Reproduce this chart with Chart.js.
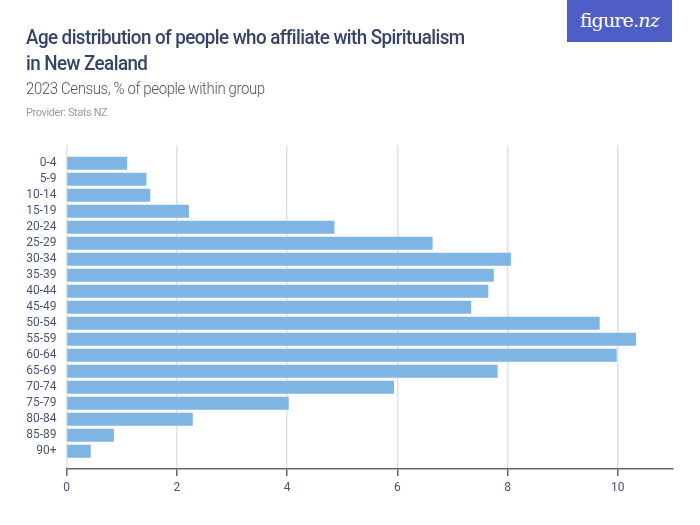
<!DOCTYPE html>
<html lang="en">
<head>
  <meta charset="UTF-8">
  <title>Age distribution of people who affiliate with Spiritualism in New Zealand</title>
  <script src="https://cdn.jsdelivr.net/npm/chart.js"></script>
  <style>
    html, body {
      margin: 0;
      padding: 0;
      width: 700px;
      height: 525px;
      background: #fff;
      overflow: hidden;
      font-family: Roboto, sans-serif;
    }
    .wrap {
      position: relative;
      width: 700px;
      height: 525px;
    }
    canvas {
      position: absolute;
      left: 0;
      top: 0;
    }
    .title {
      position: absolute;
      left: 26px;
      top: 24px;
      font-size: 20px;
      line-height: 26px;
      font-weight: 500;
      color: #354466;
      letter-spacing: -0.6px;
      transform: scaleX(0.94);
      transform-origin: left top;
      white-space: nowrap;
    }
    .subtitle {
      position: absolute;
      left: 26px;
      top: 79px;
      font-size: 16px;
      font-weight: 300;
      color: #545454;
      letter-spacing: -0.4px;
      transform: scaleX(0.935);
      transform-origin: left top;
      white-space: nowrap;
    }
    .provider {
      position: absolute;
      left: 26px;
      top: 106px;
      font-size: 11px;
      color: #9a9a9a;
      letter-spacing: -0.4px;
      white-space: nowrap;
    }
    .logo {
      position: absolute;
      left: 567px;
      top: 0;
      width: 105px;
      height: 42px;
      background: #4f5dc6;
      color: #fff;
      font-family: "DejaVu Serif", serif;
      font-size: 19px;
      line-height: 40px;
      text-align: center;
      letter-spacing: -0.8px;
    }
    .logo i {
      font-style: italic;
    }
  </style>
</head>
<body>
  <div class="wrap">
    <canvas id="chart" width="700" height="525"></canvas>
    <div class="title">Age distribution of people who affiliate with Spiritualism<br>in New Zealand</div>
    <div class="subtitle">2023 Census, % of people within group</div>
    <div class="provider">Provider: Stats NZ</div>
    <div class="logo">figure.<i>nz</i></div>
  </div>

  <script>
    const ageGroups = ['0-4', '5-9', '10-14', '15-19', '20-24', '25-29', '30-34', '35-39', '40-44', '45-49',
      '50-54', '55-59', '60-64', '65-69', '70-74', '75-79', '80-84', '85-89', '90+'];
    const percentages = [1.10, 1.45, 1.52, 2.22, 4.86, 6.64, 8.06, 7.75, 7.65, 7.34,
      9.67, 10.33, 9.98, 7.82, 5.94, 4.03, 2.29, 0.86, 0.44];
    const xTicks = [0, 2, 4, 6, 8, 10];

    const labelColor = '#4a5573';
    const barColor = '#7fb5e4';

    // bars sit on a linear index axis so the empty strip above the x axis can be kept
    const points = percentages.map((v, i) => ({ x: v, y: i }));

    const ctx = document.getElementById('chart').getContext('2d');
    new Chart(ctx, {
      type: 'bar',
      data: {
        datasets: [{
          data: points,
          backgroundColor: barColor,
          borderWidth: 0,
          barPercentage: 0.8,
          categoryPercentage: 1
        }]
      },
      options: {
        indexAxis: 'y',
        responsive: false,
        animation: false,
        layout: {
          padding: { top: 145, right: 27, bottom: 0, left: 0 }
        },
        plugins: {
          legend: { display: false },
          tooltip: { enabled: false }
        },
        scales: {
          x: {
            type: 'linear',
            min: 0,
            max: 11,
            afterBuildTicks: (scale) => {
              scale.ticks = xTicks.map(v => ({ value: v }));
            },
            afterFit: (scale) => { scale.height = 56; },
            grid: {
              color: '#e2e2e2',
              lineWidth: 1.5,
              drawTicks: true,
              tickLength: 7,
              tickColor: '#666'
            },
            border: { display: true, color: '#666', width: 1.5 },
            ticks: {
              color: labelColor,
              padding: 5,
              font: { family: 'Roboto', size: 12 }
            }
          },
          y: {
            type: 'linear',
            reverse: true,
            offset: false,
            min: -1.14,
            max: 19.11,
            afterBuildTicks: (scale) => {
              scale.ticks = ageGroups.map((_, i) => ({ value: i }));
            },
            afterFit: (scale) => { scale.width = 66.5; },
            grid: { display: false, drawTicks: false, offset: false },
            border: { display: false },
            ticks: {
              color: labelColor,
              padding: 10,
              autoSkip: false,
              font: { family: 'Roboto', size: 12 },
              callback: (value) => ageGroups[value]
            }
          }
        }
      }
    });
  </script>
</body>
</html>
